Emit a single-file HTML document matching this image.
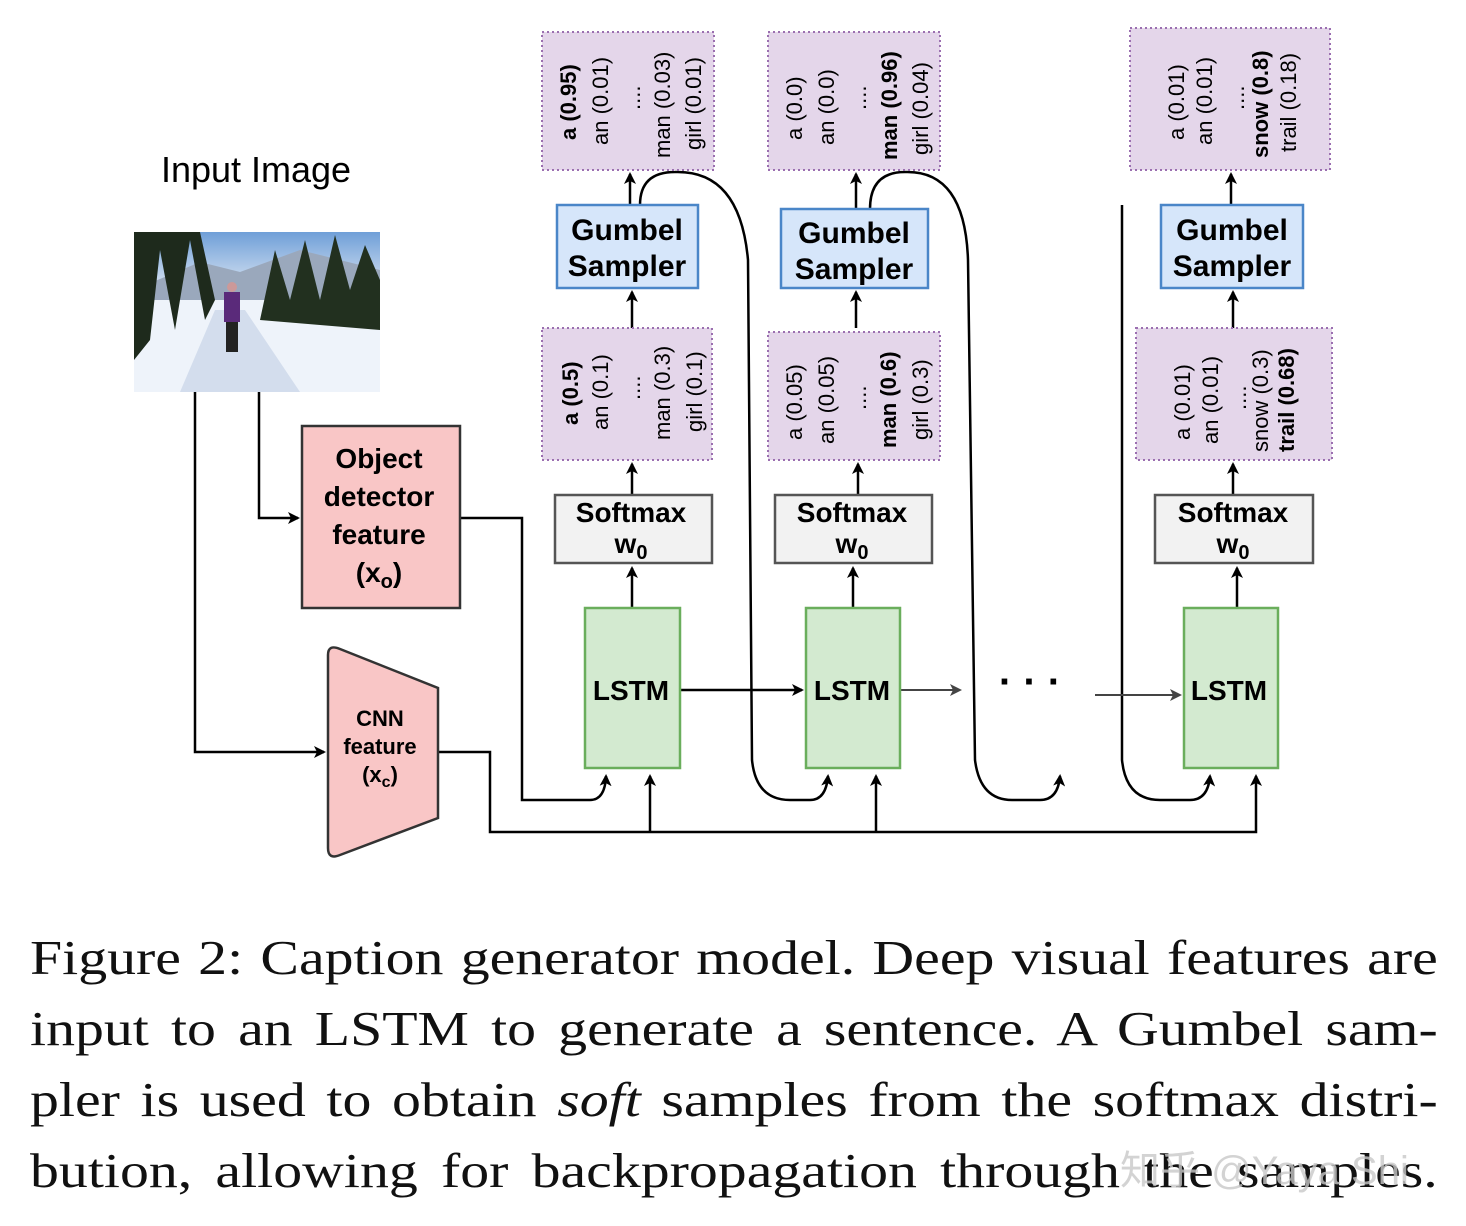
<!DOCTYPE html>
<html><head><meta charset="utf-8"><style>
html,body{margin:0;padding:0;background:#fff}
body{width:1466px;height:1226px;position:relative;overflow:hidden}
.cap{position:absolute;left:30px;top:922px;width:1193px;transform:scaleX(1.18);transform-origin:0 0;font-family:"Liberation Serif",serif;font-size:49px;line-height:71px;color:#111}
.cap div{height:71px;text-align:justify;text-align-last:justify;white-space:nowrap}
</style></head><body>
<svg width="1466" height="900" style="position:absolute;left:0;top:0" font-family="Liberation Sans, sans-serif">
<defs>
<marker id="a" markerWidth="12" markerHeight="12" refX="10" refY="6" orient="auto" markerUnits="userSpaceOnUse"><path d="M0,0 L12,6 L0,12 L3,6 z" fill="#000"/></marker>
<marker id="g" markerWidth="12" markerHeight="12" refX="10" refY="6" orient="auto" markerUnits="userSpaceOnUse"><path d="M0,0 L12,6 L0,12 L3,6 z" fill="#444"/></marker>
<linearGradient id="sky" x1="0" y1="0" x2="0" y2="1"><stop offset="0" stop-color="#6f9fd8"/><stop offset="0.3" stop-color="#c8d9ee"/><stop offset="0.5" stop-color="#e8eef6"/><stop offset="1" stop-color="#dfe8f4"/></linearGradient>
</defs>
<text x="256" y="182" font-size="36" text-anchor="middle">Input Image</text>
<rect x="134" y="232" width="246" height="160" fill="url(#sky)"/>
<path d="M134,290 L200,262 L240,272 L300,250 L380,270 L380,300 L134,300z" fill="#9aa8bc"/>
<rect x="134" y="300" width="246" height="92" fill="#eef3fa"/>
<path d="M134,232 L134,360 L150,340 L160,250 L175,330 L190,240 L205,320 L215,300 L200,232z" fill="#1e2a1c"/>
<path d="M260,320 L275,250 L290,300 L305,240 L320,300 L335,235 L350,290 L365,245 L380,280 L380,330z" fill="#22301f"/>
<path d="M180,392 L215,310 L245,310 L300,392z" fill="#d3dded"/>
<rect x="224" y="292" width="16" height="30" fill="#5a2a7a"/><rect x="226" y="322" width="12" height="30" fill="#222"/><circle cx="232" cy="287" r="5" fill="#c99"/>
<g fill="none" stroke="#000" stroke-width="2.5">
<path d="M195,392 V752 H324" marker-end="url(#a)"/>
<path d="M259,392 V518 H298" marker-end="url(#a)"/>
<path d="M460,518 H522 V800 H590 Q605,800 606,776" marker-end="url(#a)"/>
<path d="M438,752 H490 V832 H1256 V776" marker-end="url(#a)"/>
<path d="M650,832 V776" marker-end="url(#a)"/>
<path d="M876,832 V776" marker-end="url(#a)"/>
<path d="M680,690 H802" marker-end="url(#a)"/>
<path d="M632,608 V568"  marker-end="url(#a)"/>
<path d="M853,608 V568" marker-end="url(#a)"/>
<path d="M1237,608 V568" marker-end="url(#a)"/>
<path d="M632,495 V464" marker-end="url(#a)"/>
<path d="M858,495 V464" marker-end="url(#a)"/>
<path d="M1233,495 V464" marker-end="url(#a)"/>
<path d="M632,328 V292" marker-end="url(#a)"/>
<path d="M856,328 V292" marker-end="url(#a)"/>
<path d="M1233,328 V292" marker-end="url(#a)"/>
<path d="M630,205 V174" marker-end="url(#a)"/>
<path d="M856,209 V174" marker-end="url(#a)"/>
<path d="M1231,205 V174" marker-end="url(#a)"/>
<path d="M640,205 Q640,172 675,172 Q740,170 748,260 L752,760 Q756,800 790,800 L810,800 Q826,800 828,776" marker-end="url(#a)"/>
<path d="M870,209 Q870,172 905,172 Q965,170 968,260 L975,760 Q980,800 1012,800 L1040,800 Q1058,800 1060,776" marker-end="url(#a)"/>
<path d="M1122,205 L1122,760 Q1126,800 1160,800 L1190,800 Q1208,800 1210,776" marker-end="url(#a)"/>
</g>
<g stroke="#444" stroke-width="2" fill="none">
<path d="M900,690 H960" marker-end="url(#g)"/>
<path d="M1095,695 H1180" marker-end="url(#g)"/>
</g>
<text x="1030" y="695" font-size="40" text-anchor="middle" font-weight="bold">· · ·</text>
<rect x="302" y="426" width="158" height="182" fill="#f9c6c6" stroke="#333" stroke-width="2.5"/>
<g font-size="28" font-weight="bold" text-anchor="middle"><text x="379" y="468">Object</text><text x="379" y="506">detector</text><text x="379" y="544">feature</text><text x="379" y="582">(x<tspan font-size="20" dy="6">o</tspan><tspan dy="-6">)</tspan></text></g>
<path d="M328,655 Q328,644 340,649 L438,688 L438,818 L340,855 Q328,860 328,848z" fill="#f9c6c6" stroke="#333" stroke-width="2.5"/>
<g font-size="22" font-weight="bold" text-anchor="middle"><text x="380" y="726">CNN</text><text x="380" y="754">feature</text><text x="380" y="782">(x<tspan font-size="16" dy="5">c</tspan><tspan dy="-5">)</tspan></text></g>
<g fill="#d3ead0" stroke="#6aae5c" stroke-width="2.5">
<rect x="585" y="608" width="95" height="160"/><rect x="806" y="608" width="94" height="160"/><rect x="1184" y="608" width="94" height="160"/></g>
<g font-size="28" font-weight="bold" text-anchor="middle"><text x="631" y="700">LSTM</text><text x="852" y="700">LSTM</text><text x="1229" y="700">LSTM</text></g>
<g fill="#f2f2f2" stroke="#555" stroke-width="2.5">
<rect x="555" y="495" width="157" height="68"/><rect x="775" y="495" width="157" height="68"/><rect x="1155" y="495" width="158" height="68"/></g>
<g font-size="28" font-weight="bold" text-anchor="middle">
<text x="631" y="522">Softmax</text><text x="631" y="553">w<tspan font-size="20" dy="6">0</tspan></text>
<text x="852" y="522">Softmax</text><text x="852" y="553">w<tspan font-size="20" dy="6">0</tspan></text>
<text x="1233" y="522">Softmax</text><text x="1233" y="553">w<tspan font-size="20" dy="6">0</tspan></text></g>
<g fill="#d6e6fa" stroke="#4a86c8" stroke-width="2.5">
<rect x="557" y="205" width="141" height="83"/><rect x="781" y="209" width="147" height="79"/><rect x="1161" y="205" width="142" height="83"/></g>
<g font-size="30" font-weight="bold" text-anchor="middle">
<text x="627" y="240">Gumbel</text><text x="627" y="276">Sampler</text>
<text x="854" y="243">Gumbel</text><text x="854" y="279">Sampler</text>
<text x="1232" y="240">Gumbel</text><text x="1232" y="276">Sampler</text></g>
<g fill="#e4d6ea" stroke="#9b6fb0" stroke-width="2" stroke-dasharray="2,3">
<rect x="542" y="32" width="172" height="138"/><rect x="768" y="32" width="172" height="138"/><rect x="1130" y="28" width="200" height="142"/>
<rect x="542" y="328" width="170" height="132"/><rect x="768" y="332" width="172" height="128"/><rect x="1136" y="328" width="196" height="132"/></g>
<g font-size="22">
<text transform="translate(576,140) rotate(-90)" font-weight="bold">a (0.95)</text>
<text transform="translate(608,145) rotate(-90)">an (0.01)</text>
<text transform="translate(640,110) rotate(-90)">....</text>
<text transform="translate(670,158) rotate(-90)">man (0.03)</text>
<text transform="translate(701,150) rotate(-90)">girl (0.01)</text>
<text transform="translate(802,140) rotate(-90)">a (0.0)</text>
<text transform="translate(834,145) rotate(-90)">an (0.0)</text>
<text transform="translate(866,110) rotate(-90)">....</text>
<text transform="translate(897,160) rotate(-90)" font-weight="bold">man (0.96)</text>
<text transform="translate(928,155) rotate(-90)">girl (0.04)</text>
<text transform="translate(1184,140) rotate(-90)">a (0.01)</text>
<text transform="translate(1212,145) rotate(-90)">an (0.01)</text>
<text transform="translate(1244,110) rotate(-90)">....</text>
<text transform="translate(1268,158) rotate(-90)" font-weight="bold">snow (0.8)</text>
<text transform="translate(1296,152) rotate(-90)">trail (0.18)</text>
<text transform="translate(578,425) rotate(-90)" font-weight="bold">a (0.5)</text>
<text transform="translate(608,430) rotate(-90)">an (0.1)</text>
<text transform="translate(640,400) rotate(-90)">....</text>
<text transform="translate(670,440) rotate(-90)">man (0.3)</text>
<text transform="translate(702,432) rotate(-90)">girl (0.1)</text>
<text transform="translate(802,440) rotate(-90)">a (0.05)</text>
<text transform="translate(834,444) rotate(-90)">an (0.05)</text>
<text transform="translate(866,410) rotate(-90)">....</text>
<text transform="translate(896,448) rotate(-90)" font-weight="bold">man (0.6)</text>
<text transform="translate(928,440) rotate(-90)">girl (0.3)</text>
<text transform="translate(1190,440) rotate(-90)">a (0.01)</text>
<text transform="translate(1218,444) rotate(-90)">an (0.01)</text>
<text transform="translate(1246,410) rotate(-90)">....</text>
<text transform="translate(1268,452) rotate(-90)">snow (0.3)</text>
<text transform="translate(1294,452) rotate(-90)" font-weight="bold">trail (0.68)</text>
</g>
</svg>
<div class="cap">
<div>Figure 2: Caption generator model. Deep visual features are</div>
<div>input to an LSTM to generate a sentence. A Gumbel sam-</div>
<div>pler is used to obtain <i>soft</i> samples from the softmax distri-</div>
<div>bution, allowing for backpropagation through the samples.</div>
</div>
<div style="position:absolute;left:1120px;top:1138px;font-family:'Liberation Sans','Noto Sans CJK SC',sans-serif;font-size:40px;color:rgba(200,200,200,0.8)">知乎 @Yaya Shi</div>
</body></html>
